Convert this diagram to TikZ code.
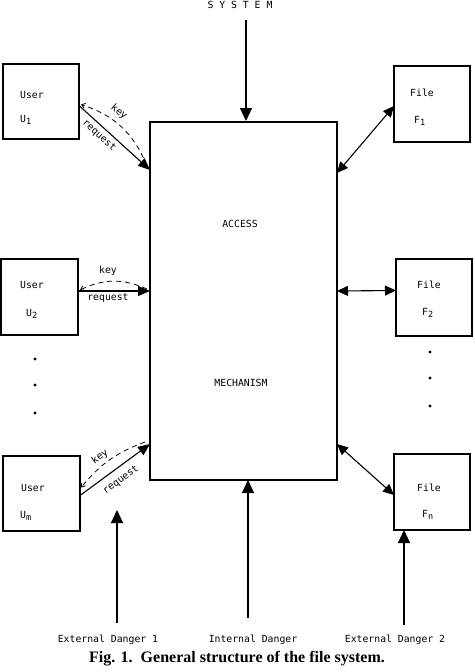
\documentclass[tikz,border=0pt]{standalone}
\usepackage{fontspec}
\setmainfont{Liberation Serif}
\setmonofont{DejaVu Sans Mono}
\usetikzlibrary{arrows.meta,calc}
\newcommand{\sbs}[1]{\raisebox{-2.5pt}{\fontsize{8.5}{9}\selectfont #1}}
\begin{document}
\begin{tikzpicture}[x=1pt,y=-1pt,
  box/.style={draw,line width=1.2pt,inner sep=0pt,outer sep=0pt},
  lbl/.style={font=\ttfamily\fontsize{9.8}{12}\selectfont,inner sep=0pt},
  klbl/.style={lbl,fill=white,inner sep=0.5pt},
  arr/.style={line width=1.1pt,-{Triangle[length=12pt,width=10pt]}},
  darr/.style={line width=1.1pt,{Triangle[length=11pt,width=10pt]}-{Triangle[length=11pt,width=10pt]}},
  keyarr/.style={line width=0.8pt,dash pattern=on 5pt off 4pt,-{Straight Barb[length=3.5pt,width=5pt]}},
  dot/.style={circle,fill,inner sep=0pt,minimum size=3.2pt},
]
\useasboundingbox (0,0) rectangle (474,672);

% boxes
\node[box,minimum width=187pt,minimum height=358pt] (main) at (243.5,301) {};
\node[box,minimum width=76pt,minimum height=75pt] (u1) at (41,101.5) {};
\node[box,minimum width=77pt,minimum height=76pt] (u2) at (39.5,297) {};
\node[box,minimum width=77pt,minimum height=75pt] (um) at (41.5,493.5) {};
\node[box,minimum width=76pt,minimum height=76pt] (f1) at (432,104) {};
\node[box,minimum width=76pt,minimum height=77pt] (f2) at (434,297.5) {};
\node[box,minimum width=76pt,minimum height=76pt] (fn) at (432,492) {};

% box texts
\node[lbl,anchor=west] (u1a) at (20,95) {User};
\node[lbl,anchor=west] (u1b) at (20,120) {U\sbs{1}};
\node[lbl,anchor=west] (u2a) at (20,285) {User};
\node[lbl,anchor=west] (u2b) at (26,314) {U\sbs{2}};
\node[lbl,anchor=west] (uma) at (21,488) {User};
\node[lbl,anchor=west] (umb) at (20,516) {U\sbs{m}};
\node[lbl,anchor=west] (f1a) at (410,93) {File};
\node[lbl,anchor=west] (f1b) at (414,121) {F\sbs{1}};
\node[lbl,anchor=west] (f2a) at (417,285) {File};
\node[lbl,anchor=west] (f2b) at (422,313) {F\sbs{2}};
\node[lbl,anchor=west] (fna) at (417,488) {File};
\node[lbl,anchor=west] (fnb) at (422,515) {F\sbs{n}};
\node[lbl] (acc) at (240,224) {ACCESS};
\node[lbl] (mech) at (241,383) {MECHANISM};

% top
\node[lbl,anchor=base] (sys) at (240,8) {S Y S T E M};
\coordinate (systop) at (246,20);
\draw[arr,-{Triangle[length=13pt,width=12pt]}] (systop) -- ($(main.north)+(2.5,-1)$);

% user connectors
\coordinate (m1) at ($(main.north west)+(0,48)$);
\coordinate (m2) at ($(main.north west)+(0,169)$);
\coordinate (m3) at ($(main.south west)+(0,-36)$);
\draw[arr] ($(u1.east)+(0,4)$) -- (m1);
\draw[keyarr] ($(m1)+(-3,-4)$) to[bend right=25] ($(u1.east)+(2,3)$);
\node[klbl,rotate=-40] (k1) at (119,112) {key};
\node[lbl,rotate=-42] (r1) at (99,136) {request};

\draw[arr] ($(u2.east)+(0,-6)$) -- (m2);
\draw[keyarr] ($(m2)+(-3,-2)$) to[bend right=25] ($(u2.east)+(2,-7)$);
\node[lbl] (k2) at (108,271) {key};
\node[lbl] (r2) at (108,298) {request};

\draw[arr] ($(um.east)+(0,2)$) -- (m3);
\draw[keyarr] ($(m3)+(-5,-2)$) to[bend right=15] ($(um.east)+(1,-6)$);
\node[klbl,rotate=35] (k3) at (100,457) {key};
\node[lbl,rotate=36] (r3) at (121,480) {request};

% file connectors
\draw[darr] ($(main.north east)+(0,51)$) -- ($(f1.west)+(0,2)$);
\draw[darr] ($(main.north east)+(0,169)$) -- ($(f2.west)+(0,-7)$);
\draw[darr] ($(main.south east)+(0,-36)$) -- ($(fn.west)+(0,3)$);

% dots
\node[dot] (dl1) at (35,359) {};
\node[dot] (dl2) at (35,385) {};
\node[dot] (dl3) at (35,413) {};
\node[dot] (dr1) at (430,352) {};
\node[dot] (dr2) at (430,378) {};
\node[dot] (dr3) at (430,406) {};

% dangers
\coordinate (e1b) at (117,623);
\coordinate (ib) at (248,618);
\coordinate (eb2) at (404,625);
\draw[arr,-{Triangle[length=13pt,width=12pt]}] (e1b) -- (117,510);
\draw[arr,-{Triangle[length=13pt,width=12pt]}] (ib) -- ($(main.south)+(4.5,0)$);
\draw[arr,-{Triangle[length=13pt,width=12pt]}] (eb2) -- ($(fn.south)+(-28,0)$);
\node[lbl] (ed1) at (108,640) {External Danger 1};
\node[lbl] (idn) at (253,640) {Internal Danger};
\node[lbl] (ed2) at (395,640) {External Danger 2};

\node[font=\bfseries\fontsize{16}{18}\selectfont,inner sep=0pt] (cap) at (237,659) {Fig. 1.\ \ General structure of the file system.};
\end{tikzpicture}
\end{document}
